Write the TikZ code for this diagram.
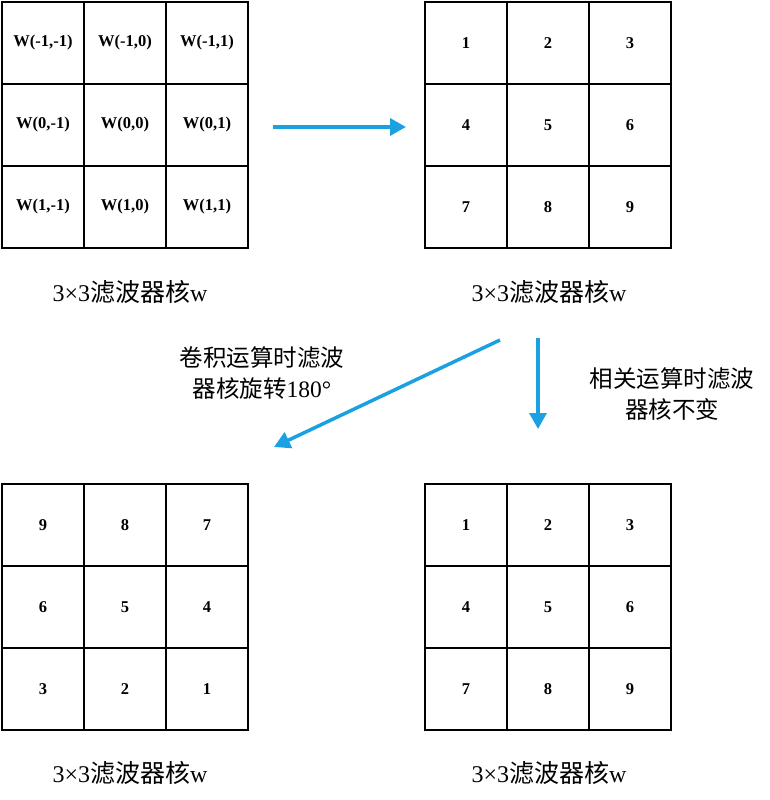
\documentclass[tikz,border=0pt]{standalone}
\usepackage{fontspec}
\setmainfont{Liberation Serif}
\newfontfamily\cjk{Noto Sans CJK SC}
\usetikzlibrary{arrows.meta}
\definecolor{arrowblue}{RGB}{27,161,226}
\tikzset{
  cell/.style={draw, line width=1.1pt, minimum size=82pt, inner sep=0pt,
               font=\fontsize{16.5}{16.5}\selectfont\bfseries},
  arr/.style={draw=arrowblue, line width=3.5pt,
              -{Triangle[length=16pt,width=17pt]}},
  lbl/.style={font=\fontsize{24}{24}\selectfont},
  note/.style={font=\fontsize{23.5}{31}\selectfont\cjk, align=center}
}
\newcommand{\kernlabel}{3×3{\cjk\fontsize{25}{25}\selectfont 滤波器核}w}
\begin{document}
\begin{tikzpicture}[x=1pt, y=-1pt]
  \useasboundingbox (0,0) rectangle (769,800);
  % top left: index grid
  \foreach \r/\y in {-1/43,0/125,1/207}
    \foreach \c/\x in {-1/43,0/125,1/207}
      \node[cell] (tl\r\c) at (\x,\y) {W(\r,\c)};
  % top right and bottom right: 1..9
  \foreach \n/\x/\y in {1/466/43,2/548/43,3/630/43,4/466/125,5/548/125,6/630/125,7/466/207,8/548/207,9/630/207}{
    \node[cell] (tr\n) at (\x,\y) {\n};
    \node[cell] (br\n) at (\x,\y+482) {\n};
  }
  % bottom left: rotated by 180
  \foreach \n/\x/\y in {9/43/525,8/125/525,7/207/525,6/43/607,5/125/607,4/207/607,3/43/689,2/125/689,1/207/689}
    \node[cell] (bl\n) at (\x,\y) {\n};
  % labels under grids
  \node[lbl] (ltl) at (130,292) {\kernlabel};
  \node[lbl] (ltr) at (549,292) {\kernlabel};
  \node[lbl] (lbl) at (130,773) {\kernlabel};
  \node[lbl] (lbr) at (549,773) {\kernlabel};
  % arrows
  \coordinate (h0) at (273,127);
  \coordinate (h1) at (406,127);
  \coordinate (d0) at (500,340);
  \coordinate (d1) at (274,447);
  \coordinate (v0) at (538,338);
  \coordinate (v1) at (538,429);
  \draw[arr] (h0) -- (h1);
  \draw[arr] (d0) -- (d1);
  \draw[arr] (v0) -- (v1);
  \node[note] (conv) at (262,373) {卷积运算时滤波\\器核旋转{\rmfamily 180°}};
  \node[note] (corr) at (672,394) {相关运算时滤波\\器核不变};
\end{tikzpicture}
\end{document}
